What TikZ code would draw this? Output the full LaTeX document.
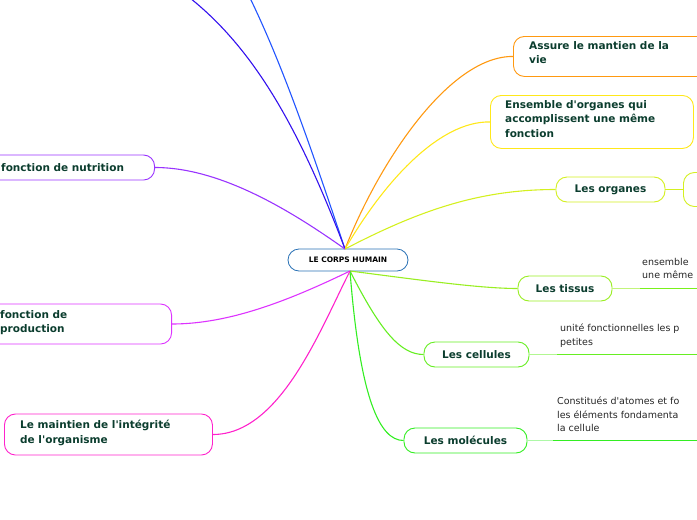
\documentclass[tikz,border=0pt]{standalone}
\usepackage{fontspec}
\setmainfont{DejaVu Sans}
\newcommand\qq{\textquotesingle}
\begin{document}
\begin{tikzpicture}[x=1pt,y=-1pt,
  box/.style={draw,rounded corners=11pt,line width=0.9pt,fill=white,inner sep=0pt,font=\bfseries\fontsize{10.5}{12}\selectfont,align=left},
  btx/.style={text=tc,font=\bfseries\fontsize{10.5}{14.5}\selectfont,align=left,anchor=north west,inner sep=0pt},
  plain/.style={inner sep=0pt,anchor=north west,align=left,font=\fontsize{9.5}{13.5}\selectfont,text=black!85},
  br/.style={line width=1.1pt}]
\useasboundingbox (0,0) rectangle (697,520);
\clip (0,0) rectangle (697,520);
\definecolor{tc}{HTML}{0B3D2E}
\definecolor{cor}{HTML}{FF9911}
\definecolor{cye}{HTML}{FFE81A}
\definecolor{cyg}{HTML}{D4F020}
\definecolor{cgy}{HTML}{99EE22}
\definecolor{cg1}{HTML}{66EE22}
\definecolor{cg2}{HTML}{33EE22}
\definecolor{cpu}{HTML}{9933FF}
\definecolor{cmg}{HTML}{DD33FF}
\definecolor{cpk}{HTML}{FF22CC}
\definecolor{cbl}{HTML}{2255FF}
\definecolor{cbv}{HTML}{3311EE}
\coordinate (ct) at (345,249);
\coordinate (cb) at (350,271);
\coordinate (t1) at (250,-2);
\coordinate (t2) at (190,-2);
\draw[br,cbl] (ct) .. controls (315,160) and (285,70) .. (t1);
\draw[br,cbv] (ct) .. controls (300,130) and (255,50) .. (t2);
\node[box,draw=cor,minimum width=200pt,minimum height=40pt,anchor=north west] (n1) at (513,36) {};
\node[btx] at (529,41) {Assure le mantien de la\\vie};
\node[box,draw=cye,minimum width=203pt,minimum height=53pt,anchor=north west] (n2) at (490,95) {};
\node[btx] at (505,100) {Ensemble d\qq organes qui\\accomplissent une même\\fonction};
\node[box,draw=cyg,minimum width=109pt,minimum height=25pt,text=tc] (n3) at (610.5,189.5) {Les organes};
\node[box,draw=cyg,minimum width=40pt,minimum height=34pt,anchor=west] (n3b) at (683,189.5) {};
\node[box,draw=cgy,minimum width=94pt,minimum height=25pt,text=tc] (n4) at (565,288.5) {Les tissus};
\node[box,draw=cg1,minimum width=105pt,minimum height=25pt,text=tc] (n5) at (476.5,354.5) {Les cellules};
\node[box,draw=cg2,minimum width=123pt,minimum height=25pt,text=tc] (n6) at (465.5,440.5) {Les molécules};
\node[box,draw=cpu,minimum width=180pt,minimum height=25pt,anchor=east] (l1) at (155,167.5) {};
\node[btx,anchor=west] at (1,167.5) {fonction de nutrition};
\node[box,draw=cmg,minimum width=200pt,minimum height=40pt,anchor=east] (l2) at (172,324) {};
\node[btx] at (0,310) {fonction de\\production};
\node[box,draw=cpk,minimum width=208pt,minimum height=41pt,anchor=west] (l3) at (4,434.5) {};
\node[btx] at (20,420) {Le maintien de l\qq intégrité\\de l\qq organisme};
\node[box,draw=black!20!cyan!60!blue,line width=0.8pt,minimum width=120pt,minimum height=22pt,font=\bfseries\fontsize{7.5}{9}\selectfont] (c) at (348,260) {LE CORPS HUMAIN};
\draw[br,cor] (ct) .. controls (380,160) and (450,56) .. (n1.west);
\draw[br,cye] (ct) .. controls (385,180) and (440,121) .. (n2.west);
\draw[br,cyg] (ct) .. controls (420,210) and (480,189.5) .. (n3.west);
\draw[br,cgy] (cb) .. controls (420,280) and (480,288.5) .. (n4.west);
\draw[br,cg1] (cb) .. controls (380,330) and (400,354.5) .. (n5.west);
\draw[br,cg2] (cb) .. controls (360,400) and (380,440.5) .. (n6.west);
\draw[br,cpu] (ct) .. controls (290,210) and (220,167.5) .. (l1.east);
\draw[br,cmg] (cb) .. controls (290,300) and (230,324) .. (l2.east);
\draw[br,cpk] (cb) .. controls (320,330) and (280,434.5) .. (l3.east);
\draw[cyg,line width=0.8pt] (n3.east) -- (671,189.5) .. controls (676,189.5) and (678,189.5) .. (n3b.west);
\node[plain] (s1) at (642,258) {ensemble\\une même};
\draw[cgy!60,line width=0.8pt] (n4.east) -- (640,288.5);
\draw[cgy!80!green,line width=1.4pt] (640,288.5) -- (700,288.5);
\node[plain] (s2) at (560,324) {unité fonctionnelles les p\\petites};
\draw[cg1!50,line width=0.8pt] (n5.east) -- (557,354.5);
\draw[cg1,line width=1.4pt] (557,354.5) -- (700,354.5);
\node[plain] (s3) at (557,397) {Constitués d\qq atomes et fo\\les éléments fondamenta\\la cellule};
\draw[cg2!40,line width=0.8pt] (n6.east) -- (553,440.5);
\draw[cg2,line width=1.4pt] (553,440.5) -- (700,440.5);
\end{tikzpicture}
\end{document}
